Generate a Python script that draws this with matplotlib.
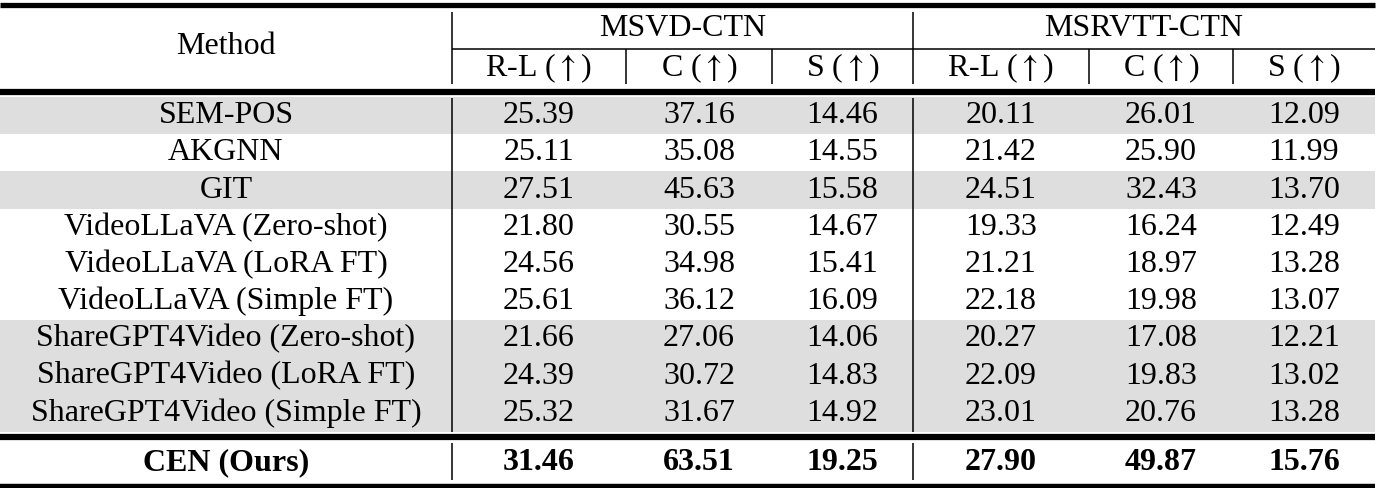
import matplotlib
matplotlib.use('Agg')
from matplotlib import pyplot as plt

plt.rcParams['font.family'] = ['Liberation Serif', 'DejaVu Serif']
plt.rcParams['mathtext.fontset'] = 'stix'

# 数据
groups = ["MSVD-CTN", "MSRVTT-CTN"]
metrics = [r"R-L ($\uparrow$)", r"C ($\uparrow$)", r"S ($\uparrow$)"]
methods = ["SEM-POS", "AKGNN", "GIT",
           "VideoLLaVA (Zero-shot)", "VideoLLaVA (LoRA FT)", "VideoLLaVA (Simple FT)",
           "ShareGPT4Video (Zero-shot)", "ShareGPT4Video (LoRA FT)", "ShareGPT4Video (Simple FT)"]
msvd_rl = [25.39, 25.11, 27.51, 21.80, 24.56, 25.61, 21.66, 24.39, 25.32]
msvd_c = [37.16, 35.08, 45.63, 30.55, 34.98, 36.12, 27.06, 30.72, 31.67]
msvd_s = [14.46, 14.55, 15.58, 14.67, 15.41, 16.09, 14.06, 14.83, 14.92]
msrvtt_rl = [20.11, 21.42, 24.51, 19.33, 21.21, 22.18, 20.27, 22.09, 23.01]
msrvtt_c = [26.01, 25.90, 32.43, 16.24, 18.97, 19.98, 17.08, 19.83, 20.76]
msrvtt_s = [12.09, 11.99, 13.70, 12.49, 13.28, 13.07, 12.21, 13.02, 13.28]
ours_name = "CEN (Ours)"
ours = [31.46, 63.51, 19.25, 27.90, 49.87, 15.76]
shaded = [0, 2, 6, 7, 8]

columns = [msvd_rl, msvd_c, msvd_s, msrvtt_rl, msrvtt_c, msrvtt_s]

# 版式（像素坐标）
W, H = 1380, 488
x_left, x_right = 0, 1375
col_edges = [452, 626, 772, 913, 1089, 1233, 1375]
col_x = [(col_edges[i] + col_edges[i + 1]) / 2 for i in range(6)]
method_x = 226
row_top = 97
row_h = 37.2
fs = 23

fig = plt.figure(figsize=(W / 100, H / 100), dpi=100)
ax = fig.add_axes([0, 0, 1, 1])
ax.set_xlim(0, W)
ax.set_ylim(H, 0)
ax.axis('off')

# 灰色底纹
for i in shaded:
    ax.axhspan(row_top + i * row_h, row_top + (i + 1) * row_h,
               xmin=x_left / W, xmax=x_right / W, color='#dedede', lw=0, zorder=0)

# 横线
ax.hlines(4.5, x_left, x_right, color='black', lw=3.8)
ax.hlines(92, x_left, x_right, color='black', lw=4.5)
ax.hlines(437, x_left, x_right, color='black', lw=4.5)
ax.hlines(486, x_left, x_right, color='black', lw=3.2)
ax.hlines(49, col_edges[0], x_right, color='black', lw=1.1)

# 竖线
ax.vlines([col_edges[0], col_edges[3]], 12, 84, color='black', lw=1.1)
ax.vlines([col_edges[1], col_edges[2], col_edges[4], col_edges[5]], 49, 84, color='black', lw=1.1)
ax.vlines([col_edges[0], col_edges[3]], 98, 432, color='black', lw=1.1)
ax.vlines([col_edges[0], col_edges[3]], 443, 480, color='black', lw=1.1)

# 表头
ax.text(method_x, 46, "Method", ha='center', va='center', fontsize=fs)
ax.text((col_edges[0] + col_edges[3]) / 2, 28, groups[0], ha='center', va='center', fontsize=fs)
ax.text((col_edges[3] + col_edges[6]) / 2, 28, groups[1], ha='center', va='center', fontsize=fs)
for j in range(6):
    ax.text(col_x[j], 68, metrics[j % 3], ha='center', va='center', fontsize=fs)

# 数据行
for i, m in enumerate(methods):
    y = row_top + (i + 0.5) * row_h
    ax.text(method_x, y, m, ha='center', va='center', fontsize=fs)
    for j, col in enumerate(columns):
        ax.text(col_x[j], y, f"{col[i]:.2f}", ha='center', va='center', fontsize=fs)

y = 463
ax.text(method_x, y, ours_name, ha='center', va='center', fontsize=fs, fontweight='bold')
for j, v in enumerate(ours):
    ax.text(col_x[j], y, f"{v:.2f}", ha='center', va='center', fontsize=fs, fontweight='bold')

plt.savefig('out.png', dpi=100)
